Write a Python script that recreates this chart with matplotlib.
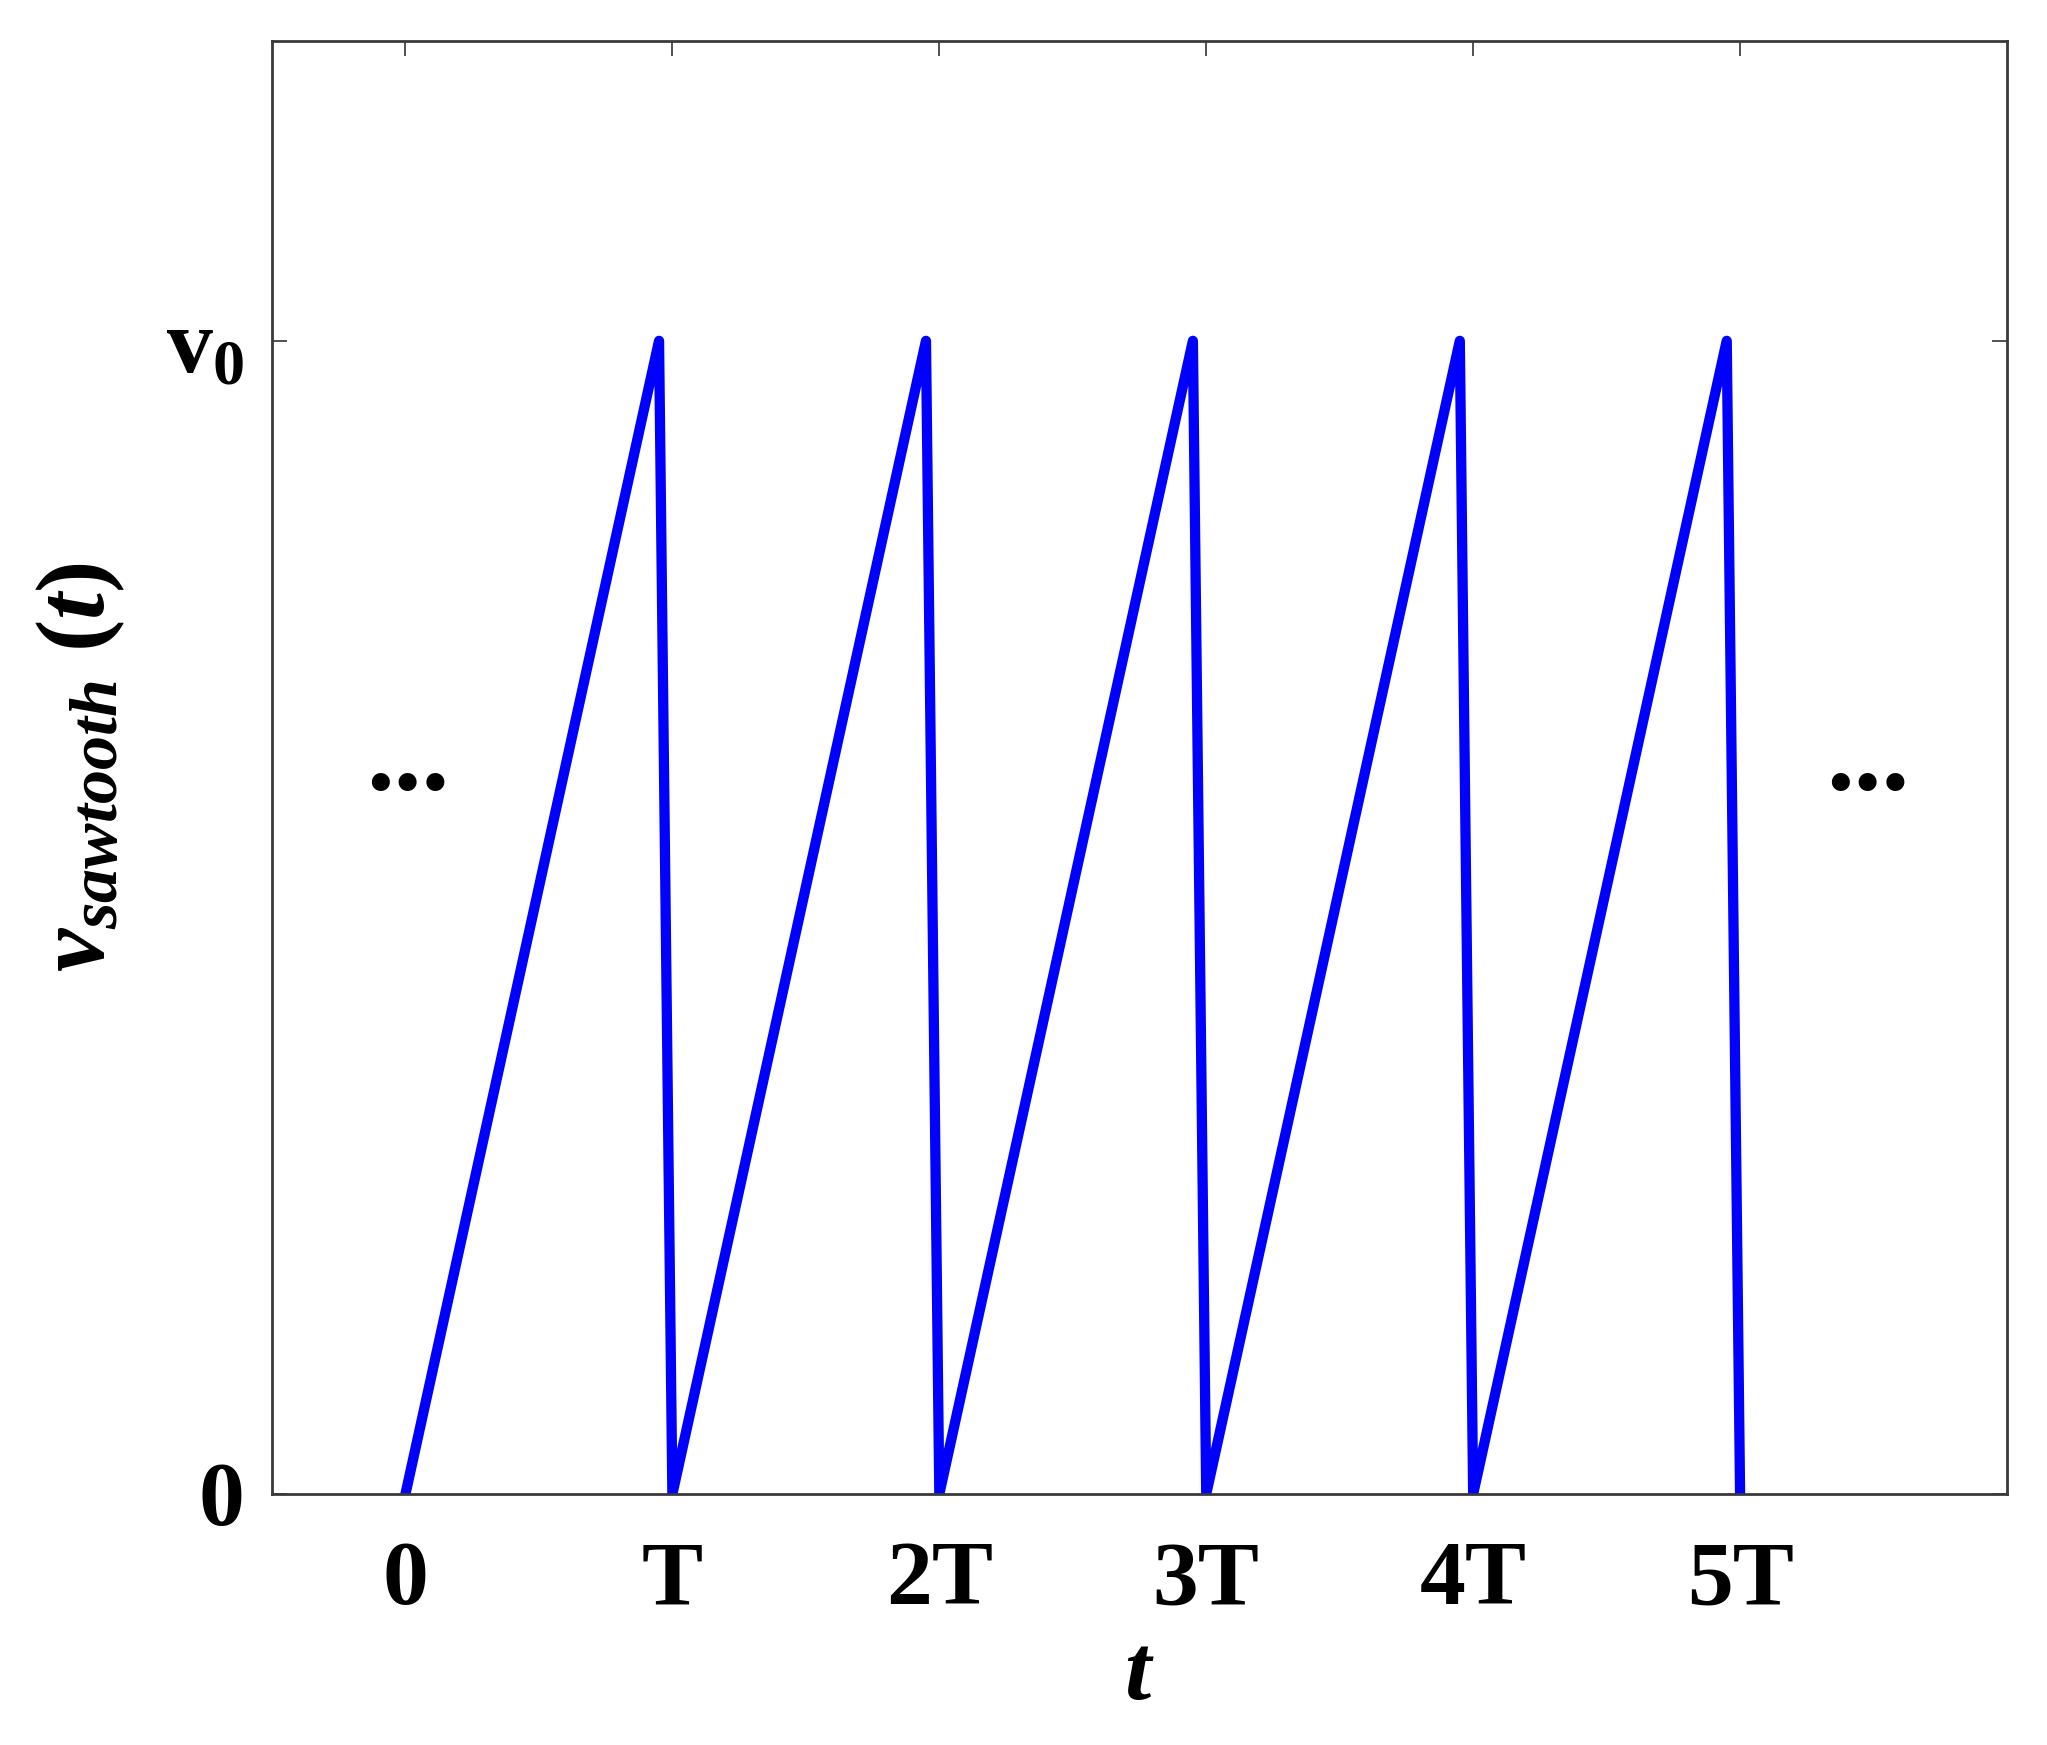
import matplotlib
matplotlib.use("Agg")
import matplotlib.pyplot as plt

# sawtooth corner points (t in units of T, v in units of v0)
t_pts = [0, 0.95, 1, 1.95, 2, 2.95, 3, 3.95, 4, 4.95, 5]
v_pts = [0, 1, 0, 1, 0, 1, 0, 1, 0, 1, 0]

xticks = [0, 1, 2, 3, 4, 5]
xlabels = ["0", "T", "2T", "3T", "4T", "5T"]
yticks = [0, 1]
ylabels = ["0", r"$\mathrm{v}_\mathrm{0}$"]

plt.rcParams["font.family"] = "Liberation Serif"
plt.rcParams["font.weight"] = "bold"
plt.rcParams["mathtext.fontset"] = "custom"
plt.rcParams["mathtext.rm"] = "Liberation Serif:bold"
plt.rcParams["mathtext.it"] = "Liberation Serif:italic:bold"
plt.rcParams["mathtext.bf"] = "Liberation Serif:bold"

fig = plt.figure(figsize=(2047 / 200, 1745 / 200), dpi=200)
ax = fig.add_axes([272 / 2047, (1745 - 1494) / 1745, (2007 - 272) / 2047, (1494 - 41) / 1745])

ax.plot(t_pts, v_pts, color="#0000ff", linewidth=3.7)

ax.set_xlim(-0.5, 6)
ax.set_ylim(0, 1.26)
ax.set_xticks(xticks)
ax.set_xticklabels(xlabels)
ax.set_yticks(yticks)
ax.set_yticklabels(ylabels)

ax.tick_params(axis="both", direction="in", length=5.5, width=0.6, color="#333333",
               labelsize=33, top=True, right=True)
ax.tick_params(axis="x", pad=17)
ax.tick_params(axis="y", pad=10)
for s in ax.spines.values():
    s.set_color("#3a3a3a")
    s.set_linewidth(1.0)

ax.set_xlabel(r"$t$", fontsize=34, labelpad=4)
ax.set_ylabel(r"$v_{sawtooth}\ (t)$", fontsize=35, labelpad=14)

# continuation dots
ax.text(0.01, 0.635, "...", fontsize=40, ha="center", va="center", fontweight="bold")
ax.text(5.48, 0.635, "...", fontsize=40, ha="center", va="center", fontweight="bold")

fig.savefig("out.png", dpi=200, facecolor="white")
